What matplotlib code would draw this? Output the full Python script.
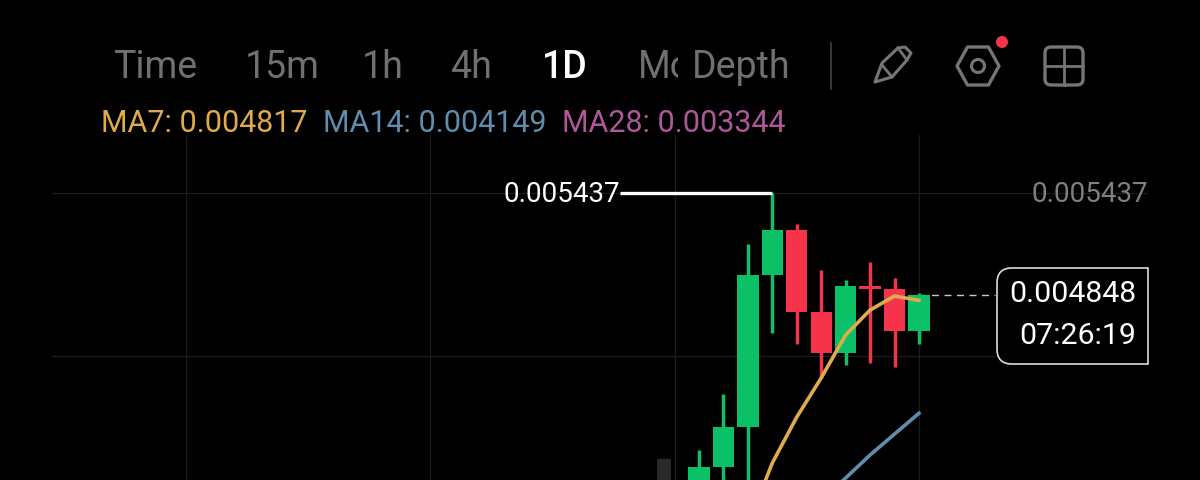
import matplotlib
matplotlib.use('Agg')
import matplotlib.pyplot as plt
from matplotlib.patches import Polygon, Circle, PathPatch, FancyBboxPatch
from matplotlib.path import Path
from matplotlib.transforms import Bbox
import numpy as np

### values
candle_idx = [0, 1, 2, 3, 4, 5, 6, 7, 8, 9]
opens = [0.003722, 0.003855, 0.004086, 0.004963, 0.005223, 0.004750, 0.004513, 0.004900, 0.004883, 0.004640]
closes = [0.003855, 0.004086, 0.004963, 0.005223, 0.004750, 0.004513, 0.004900, 0.004883, 0.004640, 0.004848]
highs = [0.003953, 0.004276, 0.005142, 0.005437, 0.005258, 0.004992, 0.004935, 0.005039, 0.004946, 0.004859]
lows = [0.003700, 0.003664, 0.003693, 0.004628, 0.004565, 0.004369, 0.004444, 0.004455, 0.004432, 0.004565]

ma7_idx = [2, 3, 4, 5, 6, 7, 8, 9]
ma7 = [0.003520, 0.003878, 0.004143, 0.004369, 0.004617, 0.004761, 0.004842, 0.004817]
ma14_idx = [5, 6, 7, 8, 9]
ma14 = [0.003664, 0.003791, 0.003924, 0.004045, 0.004165]

ghost_idx = [-1.43]
ghost_top = [0.003901]

grid_x = [-21, -11, -1, 9]
grid_y = [0.005437, 0.004496]
max_price = 0.005437
last_price = 0.004848

tabs = ['Time', '15m', '1h', '4h', '1D', 'Mo', 'Depth']
ma_labels = ['MA7: 0.004817', 'MA14: 0.004149', 'MA28: 0.003344']

GREEN = '#0ac167'
RED = '#f5344c'
ORANGE = '#e0ab4a'
BLUE = '#5f8dab'
PINK = '#b0579b'
GRAY = '#707070'
FONT = 'Roboto'

W, H = 1200, 480
fig = plt.figure(figsize=(12, 4.8), dpi=100, facecolor='black')

### chart area is 52..1148 px wide, 135..480 px down
ax = fig.add_axes([52 / W, 0, 1096 / W, 345 / H], facecolor='black')
step = 24.44
ax.set_xlim((52 - 699) / step, (1148 - 699) / step)
per_px = 5.775e-6
ymin = max_price - (480 - 193) * per_px
ax.set_ylim(ymin, max_price + (193 - 135) * per_px)
ax.axis('off')

for x in grid_x:
    ax.axvline(x, color='#1c1c1c', lw=0.9, zorder=1)
for y in grid_y:
    ax.axhline(y, color='#1c1c1c', lw=0.9, zorder=1)

ax.bar(ghost_idx, [t - ymin for t in ghost_top], bottom=ymin, width=0.57, color='#2a2a2a', zorder=2)

for i, o, c, h, l in zip(candle_idx, opens, closes, highs, lows):
    col = GREEN if c >= o else RED
    ax.vlines(i, l, h, color=col, lw=2.5, zorder=3)
    ax.bar(i, max(abs(c - o), 0.000015), bottom=min(o, c), width=0.87, color=col, zorder=3)

ax.plot(ma7_idx, ma7, color=ORANGE, lw=2.6, zorder=4)
ax.plot(ma14_idx, ma14, color=BLUE, lw=2.6, zorder=4)

### max price callout and last price leader
ax.plot([-3.23, 3], [max_price, max_price], color='white', lw=2.4, zorder=5, solid_capstyle='butt')
ax.plot([9, 12.1], [last_price, last_price], color='#cccccc', lw=1, ls=(0, (5, 4)), zorder=2)

### overlay in pixel coordinates for the app chrome
ui = fig.add_axes([0, 0, 1, 1], facecolor='none')
ui.set_xlim(0, W)
ui.set_ylim(H, 0)
ui.axis('off')

tab_x = [113, 245, 362, 450, 542, 638, 692]
for t, x in zip(tabs, tab_x):
    active = t == '1D'
    txt = ui.text(x, 64, t, color='white' if active else GRAY, fontsize=27, family=FONT,
                  weight='medium' if active else 'normal', ha='left', va='center_baseline')
    if t == 'Mo':
        # the tab strip cuts this one off
        txt.set_clip_box(Bbox([[600, 0], [678, H]]))
        txt.set_clip_on(True)

for t, x, col in zip(ma_labels, [101, 323, 562], [ORANGE, BLUE, PINK]):
    ui.text(x, 121, t, color=col, fontsize=22, family=FONT, ha='left', va='center_baseline')

ui.text(620, 191, '0.005437', color='white', fontsize=20, family=FONT, ha='right', va='center_baseline')
ui.text(1148, 191, '0.005437', color='#808080', fontsize=20, family=FONT, ha='right', va='center_baseline')

### last price box, only left corners rounded
L, R, T, B, r = 997, 1148, 268, 364, 15
verts = [(R, T), (L + r, T), (L, T), (L, T + r), (L, B - r), (L, B), (L + r, B), (R, B), (R, T)]
codes = [Path.MOVETO, Path.LINETO, Path.CURVE3, Path.CURVE3, Path.LINETO, Path.CURVE3, Path.CURVE3, Path.LINETO, Path.CLOSEPOLY]
ui.add_patch(PathPatch(Path(verts, codes), facecolor='black', edgecolor='#dddddd', lw=1.2))
ui.text(1136, 291, '0.004848', color='white', fontsize=21.8, family=FONT, ha='right', va='center_baseline')
ui.text(1136, 333, '07:26:19', color='white', fontsize=21.8, family=FONT, ha='right', va='center_baseline')

### toolbar
ICON = '#757575'
ui.plot([831, 831], [43, 89], color='#4a4a4a', lw=1.1)

# pencil
pencil = [(875, 82), (882, 63), (898, 48), (905, 47), (911, 53), (907, 60), (892, 77)]
ui.add_patch(Polygon(pencil, closed=True, fill=False, edgecolor=ICON, lw=2.2, joinstyle='round'))
ui.plot([882, 892], [65, 77], color=ICON, lw=2)
ui.plot([898, 907], [48, 60], color=ICON, lw=2)

# settings hexagon
ang = np.deg2rad([0, 60, 120, 180, 240, 300])
hexagon = np.column_stack([978 + 21 * np.cos(ang), 66 + 19 / np.sin(np.pi / 3) * np.sin(ang)])
ui.add_patch(Polygon(hexagon, closed=True, fill=False, edgecolor=ICON, lw=2.4, joinstyle='round'))
ui.add_patch(Circle((978, 66), 6.5, fill=False, edgecolor=ICON, lw=2.2))
ui.add_patch(Circle((1002, 42), 6, facecolor=RED, edgecolor='none'))

# layout grid
ui.add_patch(FancyBboxPatch((1045, 47), 38, 38, boxstyle='round,pad=0,rounding_size=6', fill=False, edgecolor=ICON, lw=2.4))
ui.plot([1064, 1064], [47, 85], color=ICON, lw=2)
ui.plot([1045, 1083], [66, 66], color=ICON, lw=2)

fig.savefig('out.png', dpi=100, facecolor='black')
